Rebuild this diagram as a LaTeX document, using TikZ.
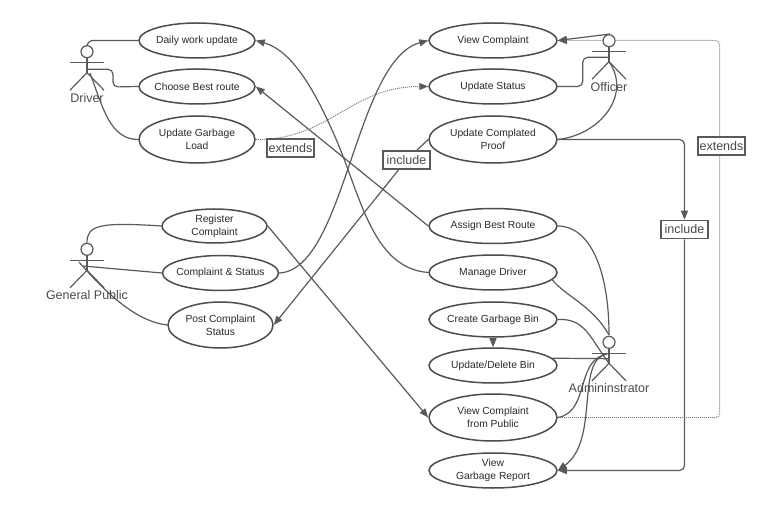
\documentclass[tikz,border=0pt]{standalone}
\usepackage{fontspec}
\setmainfont{Liberation Sans}
\usetikzlibrary{arrows.meta,backgrounds,calc,shapes.geometric}
\definecolor{ln}{HTML}{5A5A5A}
\definecolor{tx}{HTML}{2A2A2A}
\definecolor{ac}{HTML}{4A4A4A}
\tikzset{
  uc/.style={draw=ln!85!black,line width=1.5pt,fill=white,ellipse,inner sep=-12pt,text=tx,align=center,
    font=\fontsize{10.3}{12.7}\selectfont},
  ucs/.style={uc,minimum width=116pt,minimum height=35pt},
  ucsl/.style={uc,minimum width=116pt,minimum height=47pt},
  ucr/.style={uc,minimum width=128pt,minimum height=35pt},
  ucrl/.style={uc,minimum width=128pt,minimum height=47pt},
  ucp/.style={uc,minimum width=105pt,minimum height=34pt},
  ucpl/.style={uc,minimum width=105pt,minimum height=46pt},
  conn/.style={draw=ln,line width=1.2pt},
  arr/.style={conn,-{Triangle[length=9pt,width=7pt,color=ln,fill=ln]}},
  dot/.style={draw=ln!80,line width=1pt,densely dotted},
  darr/.style={dot,-{Triangle[length=9pt,width=7pt,color=ln,fill=ln]}},
  head/.style={draw=ln,line width=1.2pt,fill=white,circle,minimum size=12pt,inner sep=0pt},
  alabel/.style={text=ac,inner sep=0pt,font=\fontsize{12.5}{14}\selectfont},
  note/.style={draw=ln,line width=1.6pt,fill=white,inner sep=0pt,text=ac,
    minimum width=47pt,minimum height=18pt,font=\fontsize{12.5}{14}\selectfont,
    path picture={\fill[ln!70]
      ($(path picture bounding box.north east)+(-5pt,0)$) -- ($(path picture bounding box.north east)+(-5pt,5pt)$) -- ($(path picture bounding box.north east)+(0,5pt)$) -- cycle;}},
  limb/.style={draw=ln,line width=1.2pt},
}
\newcommand{\stickman}[4]{%
  \node[head] (#1) at (#2,#3) {};
  \coordinate (#1-arm) at (#2,#3+11);
  \coordinate (#1-hip) at (#2,#3+21);
  \coordinate (#1-l) at (#2-17,#3+11);
  \coordinate (#1-r) at (#2+17,#3+11);
  \coordinate (#1-fl) at (#2-17,#3+38.5);
  \coordinate (#1-fr) at (#2+17,#3+38.5);
  \draw[limb] (#1.south) -- (#1-hip);
  \draw[limb] (#1-l) -- (#1-r);
  \draw[limb] (#1-fl) -- (#1-hip) -- (#1-fr);
  \node[alabel] (#1-label) at (#2,#3+46) {#4};
}
\begin{document}
\begin{tikzpicture}[x=1pt,y=-1pt]
\useasboundingbox (0,0) rectangle (768,510);
% use cases, left
\node[ucs]  (daily)  at (197,40.5)  {Daily work update};
\node[ucs]  (choose) at (197,86.5)  {Choose Best route};
\node[ucsl] (load)   at (197,139.5) {Update Garbage\\Load};
\node[ucp]  (reg)    at (214.5,226) {Register\\Complaint};
\node[ucs]  (cstat)  at (220.5,273) {Complaint \& Status};
\node[ucpl] (post)   at (220.5,325) {Post Complaint\\Status};
% use cases, right
\node[ucr]  (view)   at (493,40.5)  {View Complaint};
\node[ucr]  (ustat)  at (493,86.5)  {Update Status};
\node[ucrl] (proof)  at (493,139.5) {Update Complated\\Proof};
\node[ucr]  (assign) at (493,226)   {Assign Best Route};
\node[ucr]  (manage) at (493,272.5) {Manage Driver};
\node[ucr]  (create) at (493,319.5) {Create Garbage Bin};
\node[ucr]  (udel)   at (493,365.5) {Update/Delete Bin};
\node[ucrl] (vpub)   at (493,417.5) {View Complaint\\from Public};
\node[ucr]  (report) at (493,470.5) {View\\Garbage Report};
% actors
\stickman{drv}{87}{51.7}{Driver}
\stickman{off}{609}{40.7}{Officer}
\stickman{adm}{609}{342.3}{Admininstrator}
\stickman{gen}{87}{249.3}{General Public}
% notes
\node[note] (nExtL) at (290.5,148)  {extends};
\node[note] (nIncL) at (406.5,160)  {include};
\node[note] (nExtR) at (721.5,146)  {extends};
\node[note] (nIncR) at (684.5,229.5){include};
\coordinate (offTop) at (610,34);
\coordinate (offMid) at (609,57.3);
\coordinate (admTop) at (609,335);
\coordinate (admArm) at (607,354);
\coordinate (drvBelt) at (87,69.3);
\coordinate (drvThigh) at (90,73);
\coordinate (genBelt) at (83,266);
\coordinate (genArm) at (79,262);
\coordinate (admMid) at (609,358.7);
\begin{scope}[on background layer]
% driver
\draw[conn,rounded corners=6pt] (drv.north) -- (87,40.5) -- (daily.west);
\draw[conn,rounded corners=5pt] (drvBelt) -- (113,69.3) -- (113,87) -- (choose.west);
\draw[conn] (drvThigh) .. controls (103,108) and (110,139.5) .. (load.west);
% general public
\draw[conn] (gen.north) .. controls (87,225) and (100,222) .. (reg.west);
\draw[conn] (genBelt) -- (cstat.west);
\draw[conn] (genArm) .. controls (112,300) and (140,322) .. (post.west);
% officer
\draw[arr] (offTop) -- (view.east);
\draw[conn,rounded corners=5pt] (ustat.east) -- (582.7,86.5) -- (582.7,57.3) -- (offMid);
\draw[conn] (proof.east) .. controls (600,135) and (632,95) .. (off-hip);
% crossing
\draw[arr] (cstat.east) .. controls (345,270) and (355,60) .. (view.west);
\draw[arr] (reg.east) -- (vpub.west);
\draw[arr] (assign.west) -- (choose.east);
\draw[arr] (manage.west) .. controls (370,268) and (360,190) .. (332,130) .. controls (312,85) and (290,50) .. (daily.east);
\draw[conn] (proof.west) -- (nIncL);
\draw[arr] (nIncL) -- (post.east);
\draw[darr] (load.east) .. controls (330,140) and (350,86.5) .. (ustat.west);
% includes and extends
\draw[arr,rounded corners=5pt] (proof.east) -- (684.5,139.5) -- (nIncR.north);
\draw[arr,rounded corners=5pt] (nIncR.south) -- (684.5,470.5) -- (report.east);
\draw[darr,rounded corners=4pt] (vpub.east) -- (719.5,417.5) -- (719.5,40.5) -- (view.east);
% administrator
\draw[conn] (assign.east) .. controls (590,226) and (609,270) .. (admTop);
\draw[conn] (manage.-7) .. controls (565,296) and (592,305) .. (admTop);
\draw[conn] (create.east) .. controls (585,318) and (590,338) .. (adm-hip);
\draw[conn] (udel.7) -- (admMid);
\draw[conn] (vpub.east) .. controls (590,412) and (575,360) .. (admArm);
\draw[arr] (admArm) .. controls (575,360) and (600,440) .. (report.east);
\draw[arr] (create.south) -- (udel.north);
\end{scope}
\end{tikzpicture}
\end{document}
